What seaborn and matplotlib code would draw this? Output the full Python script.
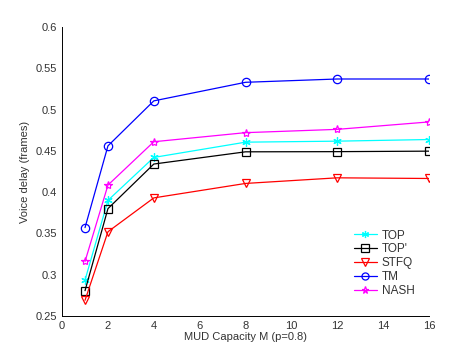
import pandas as pd
import seaborn as sns
import matplotlib.pyplot as plt

sns.set_style("white")
plt.rcParams['font.family'] = ['Liberation Sans', 'DejaVu Sans']

# data
capacity = [1, 2, 4, 8, 12, 16]
top = [0.2935, 0.390, 0.442, 0.4605, 0.4617, 0.4637]
top_prime = [0.2806, 0.380, 0.434, 0.4488, 0.449, 0.4496]
stfq = [0.269, 0.352, 0.393, 0.4105, 0.4173, 0.4165]
tm = [0.357, 0.456, 0.5105, 0.533, 0.537, 0.537]
nash = [0.316, 0.4085, 0.461, 0.472, 0.476, 0.485]

series = [
    ('TOP', top, '#00ffff', (6, 2, 0)),
    ("TOP'", top_prime, '#000000', 's'),
    ('STFQ', stfq, '#ff0000', 'v'),
    ('TM', tm, '#0000ff', 'o'),
    ('NASH', nash, '#ff00ff', '*'),
]

fig = plt.figure(figsize=(4.74, 3.55), dpi=100)
ax = fig.add_axes([0.131, 0.110, 0.774, 0.814])

for name, vals, col, mk in series:
    df = pd.DataFrame({'M': capacity, 'delay': vals})
    sns.lineplot(data=df, x='M', y='delay', ax=ax, color=col, marker=mk,
                 markersize=6, markerfacecolor='none', markeredgecolor=col,
                 markeredgewidth=0.9, linewidth=0.9, label=name, errorbar=None)

ax.set_xlim(0, 16)
ax.set_ylim(0.25, 0.6)
ax.set_xticks(range(0, 17, 2))
ax.set_yticks([0.25, 0.3, 0.35, 0.4, 0.45, 0.5, 0.55, 0.6])
ax.set_yticklabels(['0.25', '0.3', '0.35', '0.4', '0.45', '0.5', '0.55', '0.6'])
ax.tick_params(direction='in', length=4, labelsize=8, colors='#333333', width=0.6)
ax.set_xlabel('MUD Capacity M (p=0.8)', fontsize=8, color='#333333', labelpad=1)
ax.set_ylabel('Voice delay (frames)', fontsize=8, color='#333333', labelpad=4)
for s in ['top', 'right']:
    ax.spines[s].set_visible(False)
for s in ['left', 'bottom']:
    ax.spines[s].set_color('#000000')
    ax.spines[s].set_linewidth(0.7)

leg = ax.legend(loc='lower right', bbox_to_anchor=(0.99, 0.03), frameon=False,
                fontsize=8.5, handlelength=2.0, labelspacing=0.15, handletextpad=0.4,
                markerscale=0.85)
for t in leg.get_texts():
    t.set_color('#333333')

fig.savefig('out.png', dpi=100)
